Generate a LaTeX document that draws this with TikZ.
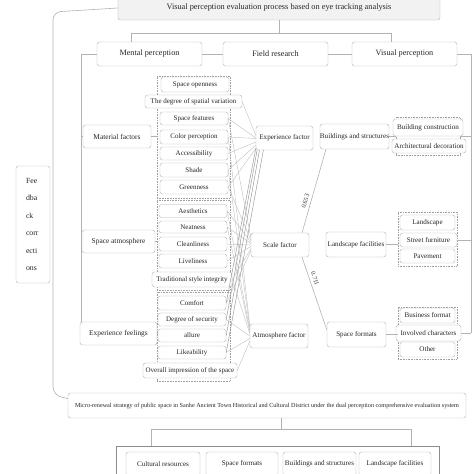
\documentclass[tikz,border=0pt]{standalone}
\usepackage{fontspec}
\setmainfont{Liberation Serif}
\usepackage{graphicx}
\begin{document}
\begin{tikzpicture}[x=1pt,y=-1pt,
 box/.style={draw=gray!60, rounded corners=2.5pt, fill=white, inner sep=0pt, align=center, text=black!85},
 grp/.style={draw=gray!75, densely dotted, inner sep=0pt, line width=0.6pt},
 wire/.style={draw=gray!55, line width=0.35pt},
 dwire/.style={draw=gray!85, line width=0.45pt},
 link/.style={draw=gray!60, line width=0.6pt},
 fs/.style={font=\fontsize{#1}{#1}\selectfont},
 lab/.style={font=\fontsize{6.3}{6.3}\selectfont, text=black!80, inner sep=3pt},
]
\path[use as bounding box] (0,0) rectangle (474,474);

% dotted groups
\node[grp, minimum width=73pt, minimum height=122pt] (g1) at (193.5,137) {};
\node[grp, minimum width=73pt, minimum height=90pt] (g2) at (193.5,245) {};
\node[grp, minimum width=73pt, minimum height=89pt] (g3) at (193.5,336.5) {};
\node[grp, minimum width=64pt, minimum height=38pt] (rg1) at (428,136) {};
\node[grp, minimum width=59pt, minimum height=54pt] (rg2) at (427.5,239) {};
\node[grp, minimum width=59pt, minimum height=52pt] (rg3) at (427.5,333) {};

% top level
\node[box, fill=gray!10, minimum width=322pt, minimum height=24pt, fs=8.3] (top) at (279,8) {Visual perception evaluation process based on eye tracking analysis};
\node[box, minimum width=105pt, minimum height=24pt, fs=8.2] (mental) at (149.5,54) {Mental perception};
\node[box, minimum width=105pt, minimum height=24pt, fs=8.2] (field) at (275.5,54) {Field research};
\node[box, minimum width=105pt, minimum height=24pt, fs=8.2] (visual) at (404.5,54) {Visual perception};

% feedback
\node[box, minimum width=34pt, minimum height=117pt, align=left] (fb) at (33,224.5)
 {\begin{minipage}{14pt}\fontsize{7.8}{17.5}\selectfont Fee\\dba\\ck\\corr\\ecti\\ons\end{minipage}};

% left categories
\node[box, minimum width=68pt, minimum height=23pt, fs=7.4] (matf) at (117,136.5) {Material factors};
\node[box, minimum width=73pt, minimum height=23pt, fs=7.4] (spatm) at (118.5,241.5) {Space atmosphere};
\node[box, minimum width=77pt, minimum height=23pt, fs=7.4] (expf) at (118.5,333.5) {Experience feelings};

% items
\begin{scope}[every node/.append style={box, fs=7, minimum width=68pt}]
\node[minimum height=15pt] (sopen) at (195,84.5) {Space openness};
\node[minimum width=97pt, minimum height=13pt] (dsv) at (193.5,101.5) {The degree of spatial variation};
\node[minimum height=13pt] (sfeat) at (194,118.5) {Space features};
\node[minimum height=14pt] (color) at (194,137) {Color perception};
\node[minimum height=13pt] (access) at (194,153.5) {Accessibility};
\node[minimum height=14pt] (shade) at (194,170) {Shade};
\node[minimum height=14pt] (green) at (194,187) {Greenness};
\node[minimum height=13pt] (aesth) at (193,211) {Aesthetics};
\node[minimum height=12pt] (neat) at (193,227) {Neatness};
\node[minimum height=14pt] (clean) at (193,244) {Cleanliness};
\node[minimum height=14pt] (live) at (193,261) {Liveliness};
\node[minimum width=80pt, minimum height=15pt] (trad) at (192,279.5) {Traditional style integrity};
\node[minimum height=14pt] (comfort) at (192,303) {Comfort};
\node[minimum height=13pt] (secur) at (192,319.5) {Degree of security};
\node[minimum height=13pt] (allure) at (192,335.5) {allure};
\node[minimum height=13pt] (like) at (192,352.5) {Likeability};
\node[minimum width=94pt, minimum height=15pt] (overall) at (190,370.5) {Overall impression of the space};
\end{scope}

% factors
\begin{scope}[every node/.append style={box, fs=7.1, minimum height=24pt}]
\node[minimum width=57pt] (expfac) at (284.5,138) {Experience factor};
\node[minimum width=58pt] (scalef) at (280,245) {Scale factor};
\node[minimum width=58pt] (atmof) at (279,336) {Atmosphere factor};
\node[minimum width=69pt, minimum height=25pt] (bands) at (354.5,136.5) {Buildings and structures};
\node[minimum width=60pt, minimum height=25pt] (landf) at (356,244.5) {Landscape facilities};
\node[minimum width=59pt, minimum height=25pt] (spform) at (356.5,334.5) {Space formats};
\end{scope}

% right items
\begin{scope}[every node/.append style={box, fs=7.1}]
\node[minimum width=70pt, minimum height=17pt] (bconst) at (428,127.5) {Building construction};
\node[minimum width=74pt, minimum height=14pt] (archdec) at (429,146) {Architectural decoration};
\node[minimum width=55pt, minimum height=15pt] (landsc) at (427.5,222.5) {Landscape};
\node[minimum width=57pt, minimum height=14pt] (street) at (428.5,240) {Street furniture};
\node[minimum width=55pt, minimum height=14pt] (pave) at (427.5,256) {Pavement};
\node[minimum width=55pt, minimum height=15pt] (busf) at (427.5,315.5) {Business format};
\node[minimum width=65pt, minimum height=16pt] (invch) at (428.5,333) {Involved characters};
\node[minimum width=55pt, minimum height=15pt] (other) at (427.5,349.5) {Other};
\end{scope}

% strategy and bottom
\node[box, minimum width=398pt, minimum height=25pt] (strat) at (267,405.5)
 {\resizebox{384pt}{!}{Micro-renewal strategy of public space in Sanhe Ancient Town Historical and Cultural District under the dual perception comprehensive evaluation system}};
\node[draw=gray!90, line width=0.7pt, inner sep=0pt, minimum width=323pt, minimum height=44pt] (outer) at (277.5,468) {};
\begin{scope}[every node/.append style={box, fs=7.1, minimum height=24pt}]
\node[minimum width=74pt] (cult) at (163,464) {Cultural resources};
\node[minimum width=72pt] (bspf) at (242,464) {Space formats};
\node[minimum width=73pt] (bbs) at (319.5,464) {Buildings and structures};
\node[minimum width=72pt] (blf) at (395,464) {Landscape facilities};
\end{scope}

% top tree connectors
\coordinate (bl) at (131,33);
\coordinate (br) at (391,33);
\draw[link] (top.south) -- (top.south |- bl);
\draw[link] (bl) -- (br);
\draw[link] (bl) -- (bl |- mental.north);
\draw[link] (br) -- (br |- visual.north);
\draw[link] (mental.east) -- (field.west);
\draw[link] (field.east) -- (visual.west);

% left bracket
\coordinate (lb) at (81,54);
\draw[link] (mental.west) -- (lb) -- (lb |- expf.north west);
\draw[link] (lb |- matf.west) -- (matf.west);
\draw[link] (lb |- spatm.west) -- (spatm.west);
\draw[link] (matf.east) -- (g1.west |- matf.east);
\draw[link] (spatm.east) -- (g2.west |- spatm.east);
\draw[link] (expf.east) -- (g3.west |- expf.east);

% right bracket
\coordinate (rb) at (471,54);
\draw[link] (visual.east) -- (rb) -- (rb |- invch.east);
\draw[link] (rb |- rg1.east) -- (rg1.east);
\draw[link] (rb |- street.east) -- (rg2.east |- street.east);
\draw[link] (rb |- invch.east) -- (invch.east);
\draw[link] (bands.east) -- (rg1.west |- bands.east);
\draw[link] (landf.east) -- (rg2.west |- landf.east);
\draw[link] (spform.east) -- (rg3.west |- spform.east);

% weighted links
\draw[link] (bands.204) -- node[lab, pos=0.64, sloped, above] {0.653} (scalef.29);
\draw[link] (scalef.-29) -- node[lab, pos=0.32, sloped, above] {0.711} (spform.171);

% feedback loop
\coordinate (f1) at (53,12);
\coordinate (f2) at (53,395);
\draw[link, rounded corners=8pt] (top.west) -- (f1) -- (f2) -- (strat.178);

% bottom tree
\coordinate (sb) at (281,429);
\coordinate (sl) at (151,429);
\coordinate (sr) at (411,429);
\draw[link] (strat.south -| sb) -- (sb);
\draw[link] (sl) -- (sr);
\draw[link] (sl) -- (sl |- outer.north);
\draw[link] (sr) -- (sr |- outer.north);

% evaluation wires
\foreach \s/\a in {dsv/175, sfeat/180, color/181, access/188, shade/194, green/200}
  \draw[wire] (\s.east) -- (expfac.\a);
\foreach \s/\a in {comfort/200, secur/204, allure/206, like/210}
  \draw[dwire] (\s.east) -- (expfac.\a);
\foreach \s/\a in {sfeat/165, green/170, aesth/174, neat/177, clean/180, live/183, trad/188, comfort/192}
  \draw[wire] (\s.east) -- (scalef.\a);
\foreach \s/\a in {color/160, shade/165, aesth/169, neat/172, trad/175, secur/180, like/185, overall/190}
  \draw[wire] (\s.east) -- (atmof.\a);
\end{tikzpicture}
\end{document}
